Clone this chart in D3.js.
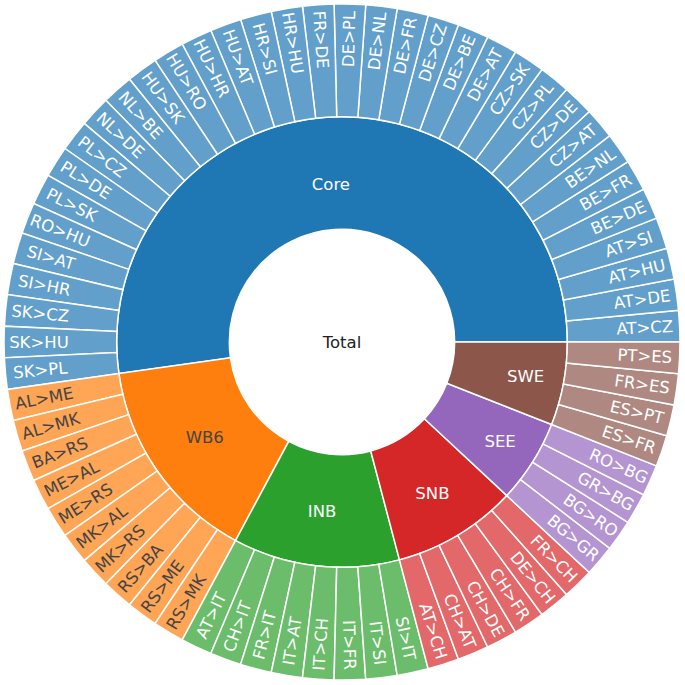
<!DOCTYPE html>
<html>
<head>
<meta charset="utf-8">
<script src="https://cdn.jsdelivr.net/npm/d3@7"></script>
<style>
  html, body { margin: 0; padding: 0; background: #fff; }
  svg { display: block; }
  text { font-family: "DejaVu Sans", Verdana, sans-serif; }
</style>
</head>
<body>
<svg id="chart" width="685" height="685"></svg>
<script>
// ---- data ----
const rootLabel = "Total";
const groups = ["Core", "WB6", "INB", "SNB", "SEE", "SWE"];
const coreLeaves = ["AT>CZ","AT>DE","AT>HU","AT>SI","BE>DE","BE>FR","BE>NL","CZ>AT","CZ>DE","CZ>PL","CZ>SK","DE>AT","DE>BE","DE>CZ","DE>FR","DE>NL","DE>PL","FR>DE","HR>HU","HR>SI","HU>AT","HU>HR","HU>RO","HU>SK","NL>BE","NL>DE","PL>CZ","PL>DE","PL>SK","RO>HU","SI>AT","SI>HR","SK>CZ","SK>HU","SK>PL"];
const wb6Leaves = ["AL>ME","AL>MK","BA>RS","ME>AL","ME>RS","MK>AL","MK>RS","RS>BA","RS>ME","RS>MK"];
const inbLeaves = ["AT>IT","CH>IT","FR>IT","IT>AT","IT>CH","IT>FR","IT>SI","SI>IT"];
const snbLeaves = ["AT>CH","CH>AT","CH>DE","CH>FR","DE>CH","FR>CH"];
const seeLeaves = ["BG>GR","BG>RO","GR>BG","RO>BG"];
const sweLeaves = ["ES>FR","ES>PT","FR>ES","PT>ES"];
const leafValue = 1;
const groupColors = ["#1f77b4", "#ff7f0e", "#2ca02c", "#d62728", "#9467bd", "#8c564b"];
const darkTextGroups = ["WB6"];

// ---- build hierarchy ----
const leavesByGroup = [coreLeaves, wb6Leaves, inbLeaves, snbLeaves, seeLeaves, sweLeaves];
const tree = {
  name: rootLabel,
  children: groups.map((g, i) => ({
    name: g,
    children: leavesByGroup[i].map(l => ({ name: l, value: leafValue }))
  }))
};

const W = 685, H = 685;
const cx = 342, cy = 342;
const R = 338;
const levels = 3;

const root = d3.hierarchy(tree).sum(d => d.value || 0);
d3.partition().size([2 * Math.PI, levels])(root);

const rScale = d3.scaleLinear().domain([0, levels]).range([0, R]);
const colorScale = d3.scaleOrdinal().domain(groups).range(groupColors);

function groupOf(d) { return d.depth === 1 ? d : d.parent; }
function fillOf(d) {
  if (d.depth === 0) return "#ffffff";
  const c = d3.color(colorScale(groupOf(d).data.name));
  if (d.depth === 1) return c.formatHex();
  // leaf opacity 0.7 over white
  const w = 255, a = 0.7;
  return d3.rgb(c.r * a + w * (1 - a), c.g * a + w * (1 - a), c.b * a + w * (1 - a)).formatHex();
}
function textColorOf(d) {
  if (d.depth === 0) return "#222";
  return darkTextGroups.includes(groupOf(d).data.name) ? "#444" : "#ffffff";
}

// math angle (ccw from east) -> d3 arc angle (cw from north)
const arc = d3.arc()
  .startAngle(d => Math.PI / 2 - d.x1)
  .endAngle(d => Math.PI / 2 - d.x0)
  .innerRadius(d => rScale(d.y0))
  .outerRadius(d => rScale(d.y1));

const svg = d3.select("#chart");
const g = svg.append("g").attr("transform", `translate(${cx},${cy})`);

const nodes = root.descendants().filter(d => d.depth > 0);

g.selectAll("path.seg")
  .data(nodes)
  .join("path")
  .attr("class", "seg")
  .attr("d", arc)
  .attr("fill", fillOf)
  .attr("stroke", "#ffffff")
  .attr("stroke-width", 1.5);

// root circle
g.append("circle")
  .attr("r", rScale(root.y1))
  .attr("fill", "#ffffff");

const fontSize = 16.5;

// root label
g.append("text")
  .attr("x", 0).attr("y", 0)
  .attr("text-anchor", "middle")
  .attr("dominant-baseline", "central")
  .attr("font-size", fontSize)
  .attr("fill", textColorOf(root))
  .text(root.data.name);

// group labels (horizontal)
g.selectAll("text.grp")
  .data(root.children)
  .join("text")
  .attr("class", "grp")
  .attr("transform", d => {
    const th = (d.x0 + d.x1) / 2;
    const spanDeg = (d.x1 - d.x0) * 180 / Math.PI;
    const rIn = rScale(d.y0), rOut = rScale(d.y1);
    const r = Math.min(rIn + 0.37 * (rOut - rIn) + 700 / spanDeg, rOut - 25);
    return `translate(${r * Math.cos(th)},${-r * Math.sin(th)})`;
  })
  .attr("text-anchor", "middle")
  .attr("dominant-baseline", "central")
  .attr("font-size", fontSize)
  .attr("fill", textColorOf)
  .text(d => d.data.name);

// leaf labels (radial)
g.selectAll("text.leaf")
  .data(root.leaves())
  .join("text")
  .attr("class", "leaf")
  .attr("transform", d => {
    const th = (d.x0 + d.x1) / 2;
    const rIn = rScale(d.y0), rOut = rScale(d.y1);
    const r = rIn + 0.69 * (rOut - rIn);
    let deg = th * 180 / Math.PI;
    if (deg > 180) deg -= 360;
    const rot = (deg > -90 && deg <= 90) ? -deg : 180 - deg;
    return `translate(${r * Math.cos(th)},${-r * Math.sin(th)}) rotate(${rot})`;
  })
  .attr("text-anchor", "middle")
  .attr("dominant-baseline", "central")
  .attr("font-size", fontSize)
  .attr("fill", textColorOf)
  .text(d => d.data.name);
</script>
</body>
</html>
